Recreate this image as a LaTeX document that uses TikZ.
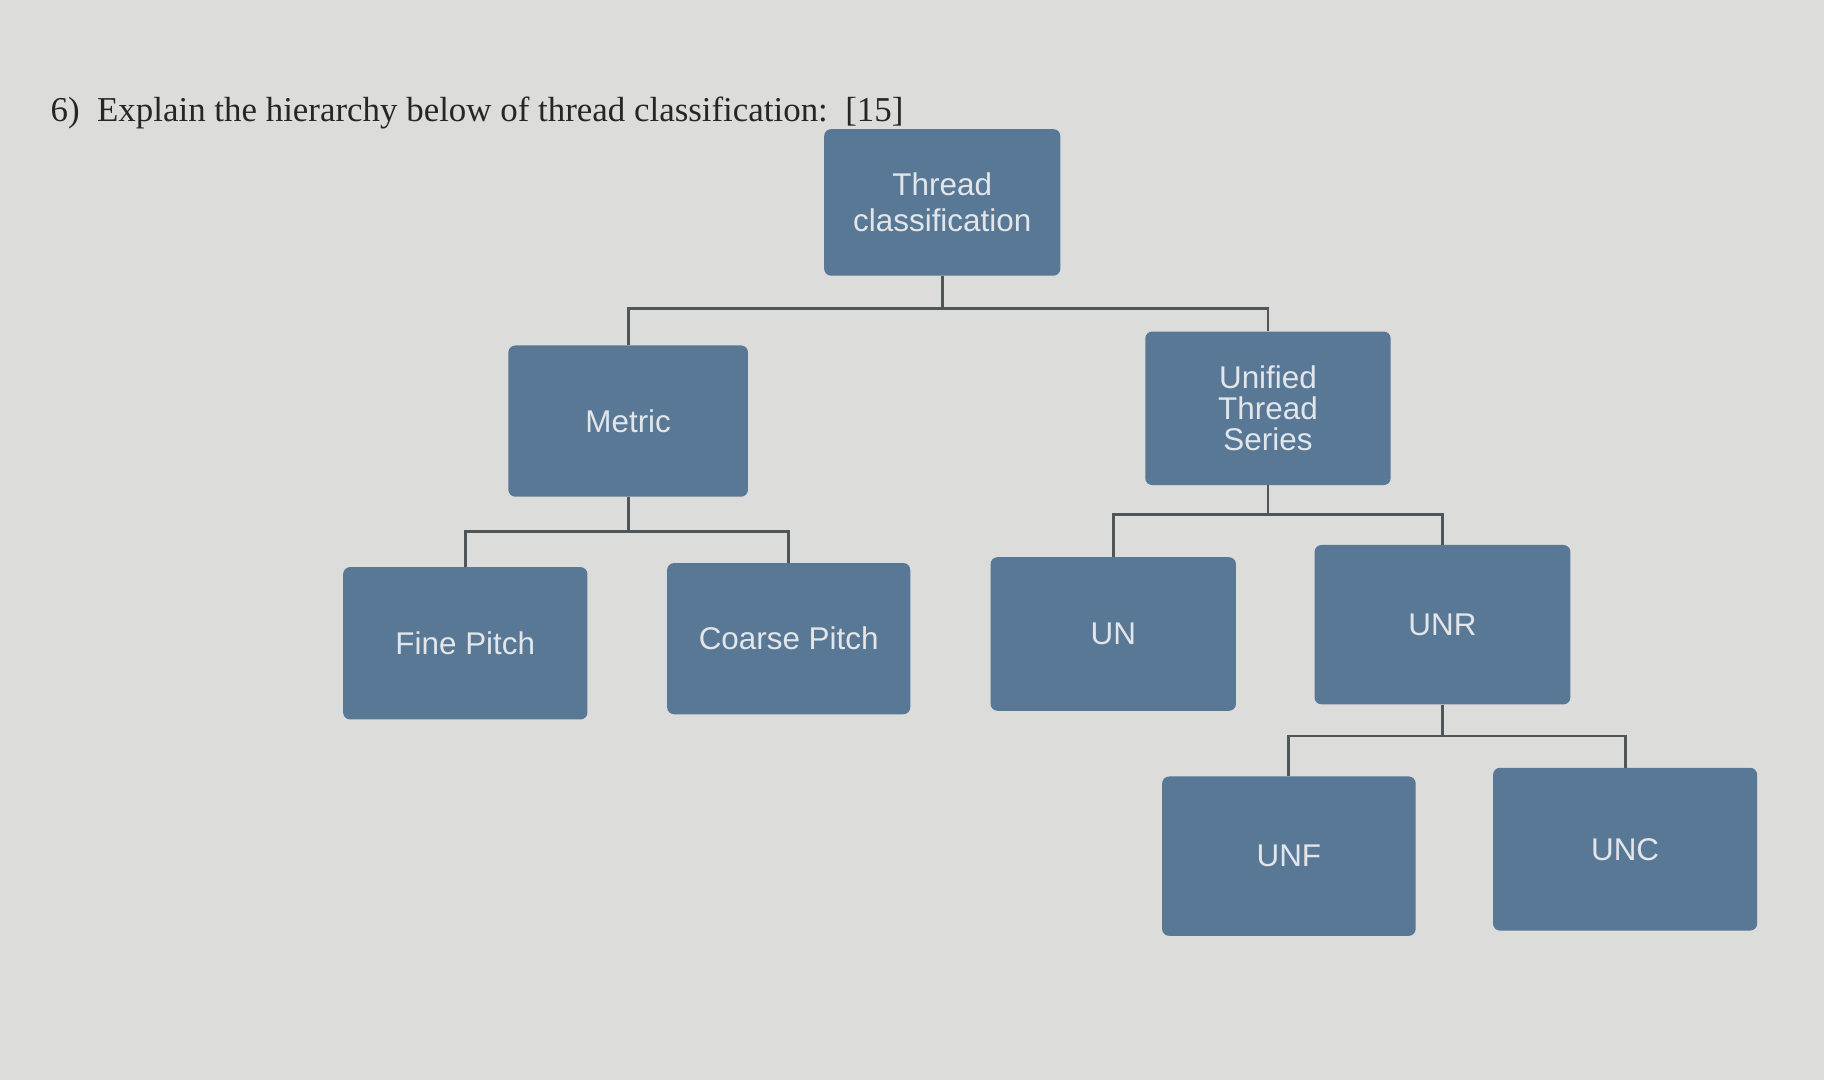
\documentclass[tikz,border=0pt]{standalone}
\usepackage{fontspec}
\setmainfont{Liberation Serif}
\setsansfont{Liberation Sans}
\begin{document}
\begin{tikzpicture}[x=1pt,y=-1pt,
  bx/.style={draw=none,fill=boxc,rounded corners=6pt,minimum width=206pt,minimum height=130pt,
    text=boxt,font=\sffamily\fontsize{27}{31}\selectfont,align=center},
  ln/.style={draw=lnc,line width=2.5pt}]
\definecolor{bg}{HTML}{DCDCDA}
\definecolor{boxc}{HTML}{587895}
\definecolor{boxt}{HTML}{E2E6EA}
\definecolor{lnc}{HTML}{505658}
\fill[bg] (0,0) rectangle (1568,928);
\useasboundingbox (0,0) rectangle (1568,928);
\node[anchor=west,font=\fontsize{30}{34}\selectfont,text=black!85] (title) at (40,97) {6)\enspace Explain the hierarchy below of thread classification:\enspace[15]};
\node[bx,minimum width=203pt,minimum height=126pt] (tc) at (810,174) {Thread\\classification};
\node[bx] (metric) at (540,362) {Metric};
\node[bx,minimum width=211pt,minimum height=132pt] (uts) at (1090,351) {Unified\\[-4pt]Thread\\[-4pt]Series};
\node[bx,minimum width=210pt,minimum height=131pt] (fine) at (400,553) {Fine Pitch};
\node[bx,minimum width=209pt] (coarse) at (678,549) {Coarse Pitch};
\node[bx,minimum width=211pt,minimum height=132pt] (un) at (957,545) {UN};
\node[bx,minimum width=220pt,minimum height=137pt] (unr) at (1240,537) {UNR};
\node[bx,minimum width=218pt,minimum height=137pt] (unf) at (1108,736) {UNF};
\node[bx,minimum width=227pt,minimum height=140pt] (unc) at (1397,730) {UNC};
\draw[ln] (tc.south) -- ++(0,28) -| (metric.north);
\draw[ln] (tc.south) -- ++(0,28) -| (uts.north);
\draw[ln] (metric.south) -- ++(0,30) -| (fine.north);
\draw[ln] (metric.south) -- ++(0,30) -| (coarse.north);
\draw[ln] (uts.south) -- ++(0,25) -| (un.north);
\draw[ln] (uts.south) -- ++(0,25) -| (unr.north);
\draw[ln] (unr.south) -- ++(0,27) -| (unf.north);
\draw[ln] (unr.south) -- ++(0,27) -| (unc.north);
\end{tikzpicture}
\end{document}
